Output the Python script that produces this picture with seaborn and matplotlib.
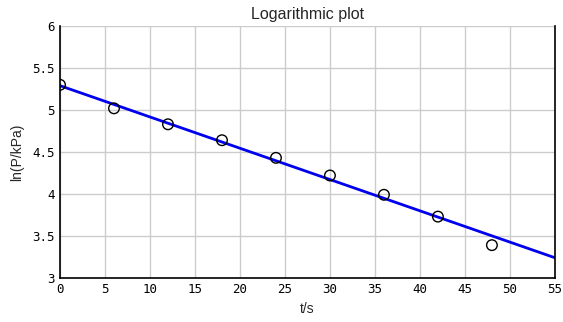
import matplotlib
matplotlib.use("Agg")
import matplotlib.pyplot as plt
import seaborn as sns
import pandas as pd

# measured points
t_s = [0, 6, 12, 18, 24, 30, 36, 42, 48]
ln_p = [5.30, 5.02, 4.83, 4.64, 4.43, 4.22, 3.99, 3.73, 3.39]

# fitted straight line (end points)
fit_t = [0, 55]
fit_ln_p = [5.29, 3.24]

df = pd.DataFrame({"t": t_s, "lnP": ln_p})
fit = pd.DataFrame({"t": fit_t, "lnP": fit_ln_p})

sns.set_style("white")
plt.rcParams["font.family"] = ["Liberation Sans", "DejaVu Sans"]

fig = plt.figure(figsize=(5.63, 3.22), dpi=100)
ax = fig.add_axes([0.1066, 0.137, 0.879, 0.782])

sns.lineplot(data=fit, x="t", y="lnP", color="#0000ee", linewidth=2, ax=ax)
sns.scatterplot(data=df, x="t", y="lnP", marker="o", s=58, facecolor="none",
                edgecolor="black", linewidth=1, ax=ax, zorder=3)

ax.set_xlim(0, 55)
ax.set_ylim(3, 6)
ax.set_xticks(range(0, 56, 5))
ax.set_yticks([3, 3.5, 4, 4.5, 5, 5.5, 6])
ax.set_yticklabels(["3", "3.5", "4", "4.5", "5", "5.5", "6"])
ax.grid(True, color="#cccccc", linewidth=1)
ax.set_axisbelow(True)
for side in ["left", "bottom", "right"]:
    ax.spines[side].set_color("black")
    ax.spines[side].set_linewidth(1.2)
ax.spines["top"].set_visible(False)
ax.tick_params(direction="in", length=5, width=1, colors="black",
               labelsize=9, pad=4)
for lbl in ax.get_xticklabels() + ax.get_yticklabels():
    lbl.set_family("DejaVu Sans Mono")

ax.set_title("Logarithmic plot", fontsize=11.5, pad=5)
ax.set_xlabel("t/s", fontsize=10, labelpad=4)
ax.set_ylabel("ln(P/kPa)", fontsize=10, labelpad=6)

fig.savefig("out.png", dpi=100)
